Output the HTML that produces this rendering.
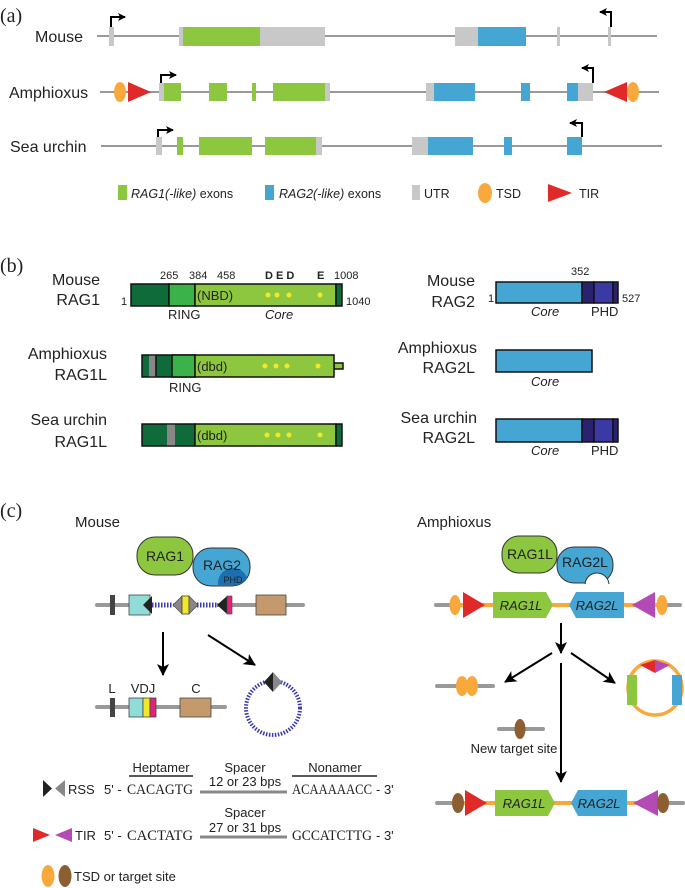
<!DOCTYPE html>
<html><head><meta charset="utf-8"><style>
body{margin:0;background:#fff}
svg{display:block}
text{font-family:"Liberation Sans",Arial,sans-serif;fill:#222}
.s{font-family:"Liberation Serif",serif}
</style></head><body>
<svg width="685" height="888" viewBox="0 0 685 888" xmlns="http://www.w3.org/2000/svg">
<defs>
<marker id="ah" markerWidth="8" markerHeight="8" refX="7" refY="4" orient="auto" markerUnits="userSpaceOnUse"><path d="M0,0 L8,4 L0,8 L2,4z" fill="#000"/></marker>
<marker id="ah2" markerWidth="12" markerHeight="12" refX="11" refY="6" orient="auto" markerUnits="userSpaceOnUse"><path d="M0,0 L12,6 L0,12 L3,6z" fill="#000"/></marker>
</defs>
<!-- (a) -->
<text x="0" y="22" class="s" font-size="20">(a)</text>
<g font-size="16">
<text x="35" y="42">Mouse</text>
<text x="9" y="98">Amphioxus</text>
<text x="10" y="152">Sea urchin</text>
</g>
<g stroke="#999" stroke-width="2"><line x1="97" y1="36" x2="657" y2="36"/><line x1="100" y1="92" x2="659" y2="92"/><line x1="101" y1="146" x2="662" y2="146"/></g>
<g>
<rect x="109" y="27" width="5" height="19" fill="#c8c8c8"/>
<rect x="179" y="27" width="4" height="19" fill="#c8c8c8"/>
<rect x="183" y="27" width="77" height="19" fill="#8dc63f"/>
<rect x="260" y="27" width="65" height="19" fill="#c8c8c8"/>
<rect x="455" y="27" width="23" height="19" fill="#c8c8c8"/>
<rect x="478" y="27" width="48" height="19" fill="#45a5d3"/>
<rect x="557" y="27" width="3" height="19" fill="#c8c8c8"/>
<rect x="608" y="27" width="3" height="19" fill="#c8c8c8"/>
</g>
<g>
<ellipse cx="120" cy="92" rx="6" ry="10" fill="#f9a83b"/>
<polygon points="128,82 151,92 128,102" fill="#e02a2a"/>
<rect x="159" y="83" width="5" height="18" fill="#c8c8c8"/>
<rect x="164" y="83" width="17" height="18" fill="#8dc63f"/>
<rect x="209" y="83" width="18" height="18" fill="#8dc63f"/>
<rect x="252" y="83" width="4" height="18" fill="#8dc63f"/>
<rect x="273" y="83" width="52" height="18" fill="#8dc63f"/>
<rect x="325" y="83" width="5" height="18" fill="#c8c8c8"/>
<rect x="426" y="83" width="8" height="18" fill="#c8c8c8"/>
<rect x="434" y="83" width="41" height="18" fill="#45a5d3"/>
<rect x="521" y="83" width="9" height="18" fill="#45a5d3"/>
<rect x="567" y="83" width="11" height="18" fill="#45a5d3"/>
<rect x="578" y="83" width="15" height="18" fill="#c8c8c8"/>
<polygon points="627,82 604,92 627,102" fill="#e02a2a"/>
<ellipse cx="633" cy="92" rx="6" ry="10" fill="#f9a83b"/>
</g>
<g>
<rect x="156" y="137" width="6" height="18" fill="#c8c8c8"/>
<rect x="177" y="137" width="6" height="18" fill="#8dc63f"/>
<rect x="199" y="137" width="53" height="18" fill="#8dc63f"/>
<rect x="265" y="137" width="51" height="18" fill="#8dc63f"/>
<rect x="316" y="137" width="6" height="18" fill="#c8c8c8"/>
<rect x="412" y="137" width="16" height="18" fill="#c8c8c8"/>
<rect x="428" y="137" width="45" height="18" fill="#45a5d3"/>
<rect x="504" y="137" width="8" height="18" fill="#45a5d3"/>
<rect x="567" y="137" width="15" height="18" fill="#45a5d3"/>
</g>
<g fill="none" stroke="#000" stroke-width="2">
<path d="M111,27 V17 H125" marker-end="url(#ah)"/>
<path d="M611,27 V12 H600" marker-end="url(#ah)"/>
<path d="M161,83 V75 H176" marker-end="url(#ah)"/>
<path d="M593,83 V68 H582" marker-end="url(#ah)"/>
<path d="M158,137 V130 H173" marker-end="url(#ah)"/>
<path d="M582,137 V123 H570" marker-end="url(#ah)"/>
</g>
<g font-size="12.5">
<rect x="118" y="185" width="9" height="15" fill="#8dc63f"/>
<text x="131" y="198"><tspan font-style="italic">RAG1(-like)</tspan> exons</text>
<rect x="265" y="185" width="9" height="15" fill="#45a5d3"/>
<text x="279" y="198"><tspan font-style="italic">RAG2(-like)</tspan> exons</text>
<rect x="412" y="185" width="8" height="15" fill="#c8c8c8"/>
<text x="424" y="198">UTR</text>
<ellipse cx="485" cy="193" rx="7" ry="10" fill="#f9a83b"/>
<text x="496" y="198">TSD</text>
<polygon points="548,184 572,193 548,202" fill="#e02a2a"/>
<text x="579" y="198">TIR</text>
</g>

<!-- (b) -->
<text x="0" y="272" class="s" font-size="20">(b)</text>
<g font-size="16" text-anchor="end">
<text x="100" y="285">Mouse</text><text x="100" y="305">RAG1</text>
<text x="107" y="359">Amphioxus</text><text x="107" y="380">RAG1L</text>
<text x="107" y="425">Sea urchin</text><text x="107" y="447">RAG1L</text>
<text x="475" y="286">Mouse</text><text x="475" y="307">RAG2</text>
<text x="477" y="353">Amphioxus</text><text x="475" y="373">RAG2L</text>
<text x="477" y="423">Sea urchin</text><text x="475" y="443">RAG2L</text>
</g>
<g stroke="#111" stroke-width="1.5">
<rect x="131" y="284" width="38" height="22" fill="#0f6b3a"/>
<rect x="169" y="284" width="26" height="22" fill="#3bb24a"/>
<rect x="195" y="284" width="141" height="22" fill="#8dc63f"/>
<rect x="336" y="284" width="6" height="22" fill="#0f6b3a"/>
<rect x="334" y="363" width="9" height="6" fill="#8dc63f"/>
<rect x="142" y="355" width="53" height="22" fill="#0f6b3a"/>
<rect x="149" y="355.7" width="7" height="20.6" fill="#888" stroke="none"/>
<line x1="156" y1="355" x2="156" y2="377"/>
<rect x="172" y="355" width="23" height="22" fill="#3bb24a"/>
<rect x="195" y="355" width="139" height="22" fill="#8dc63f"/>
<rect x="142" y="424" width="53" height="22" fill="#0f6b3a"/>
<rect x="167" y="424.7" width="8" height="20.6" fill="#888" stroke="none"/>
<rect x="195" y="424" width="141" height="22" fill="#8dc63f"/>
<rect x="336" y="424" width="6" height="22" fill="#0f6b3a"/>
<rect x="496" y="282" width="86" height="21" fill="#45a5d3"/>
<rect x="582" y="282" width="12" height="21" fill="#2a2270"/>
<rect x="594" y="282" width="19" height="21" fill="#3b3aa5"/>
<rect x="613" y="282" width="5" height="21" fill="#2a2270"/>
<rect x="496" y="350" width="96" height="22" fill="#45a5d3"/>
<rect x="496" y="419" width="86" height="23" fill="#45a5d3"/>
<rect x="582" y="419" width="12" height="23" fill="#2a2270"/>
<rect x="594" y="419" width="19" height="23" fill="#3b3aa5"/>
<rect x="613" y="419" width="5" height="23" fill="#2a2270"/>
</g>
<g fill="#f2e82a">
<circle cx="268" cy="295" r="2.5"/><circle cx="277" cy="295" r="2.5"/><circle cx="289" cy="295" r="2.5"/><circle cx="320" cy="295" r="2.5"/>
<circle cx="265" cy="366" r="2.5"/><circle cx="276" cy="366" r="2.5"/><circle cx="287" cy="366" r="2.5"/><circle cx="318" cy="366" r="2.5"/>
<circle cx="267" cy="435" r="2.5"/><circle cx="278" cy="435" r="2.5"/><circle cx="289" cy="435" r="2.5"/><circle cx="320" cy="435" r="2.5"/>
</g>
<g font-size="11">
<text x="160" y="279">265</text><text x="189" y="279">384</text><text x="217" y="279">458</text>
<text x="265" y="279" font-weight="bold">D E D</text><text x="317" y="279" font-weight="bold">E</text><text x="334" y="279">1008</text>
<text x="121" y="305">1</text><text x="346" y="305">1040</text>
<text x="571" y="275">352</text><text x="488" y="302">1</text><text x="622" y="302">527</text>
</g>
<g font-size="13">
<text x="197" y="300">(NBD)</text><text x="197" y="371">(dbd)</text><text x="197" y="440">(dbd)</text>
<text x="168" y="319">RING</text><text x="265" y="319" font-style="italic">Core</text>
<text x="169" y="392">RING</text>
<text x="531" y="316" font-style="italic">Core</text><text x="591" y="316">PHD</text>
<text x="531" y="386" font-style="italic">Core</text>
<text x="531" y="455" font-style="italic">Core</text><text x="591" y="455">PHD</text>
</g>

<!-- (c) -->
<text x="0" y="517" class="s" font-size="20">(c)</text>
<text x="75" y="527" font-size="15">Mouse</text>
<text x="417" y="527" font-size="15">Amphioxus</text>
<rect x="137" y="537" width="56" height="38" rx="18" fill="#8dc63f" stroke="#333" stroke-width="1"/>
<clipPath id="r2c"><rect x="193" y="548" width="57" height="38" rx="18"/></clipPath>
<rect x="193" y="548" width="57" height="38" rx="18" fill="#45a5d3" stroke="#333" stroke-width="1"/>
<circle cx="233" cy="583" r="15" fill="#1e6fb0" clip-path="url(#r2c)"/>
<text x="165" y="561" font-size="14" text-anchor="middle">RAG1</text>
<text x="222" y="570" font-size="14" text-anchor="middle">RAG2</text>
<text x="233" y="583" font-size="9" text-anchor="middle">PHD</text>
<line x1="97" y1="605" x2="303" y2="605" stroke="#999" stroke-width="4" stroke-linecap="round"/>
<line x1="152" y1="605" x2="173" y2="605" stroke="#fff" stroke-width="5"/>
<line x1="197" y1="605" x2="217" y2="605" stroke="#fff" stroke-width="5"/>
<line x1="152" y1="605" x2="173" y2="605" stroke="#3a3ab0" stroke-width="5" stroke-dasharray="1.5 1.5"/>
<line x1="197" y1="605" x2="217" y2="605" stroke="#3a3ab0" stroke-width="5" stroke-dasharray="1.5 1.5"/>
<rect x="110" y="595" width="5" height="20" fill="#444"/>
<rect x="129" y="595" width="21" height="20" fill="#8fdcd8" stroke="#444" stroke-width="0.8"/>
<polygon points="143,605 152,596 152,614" fill="#222"/>
<polygon points="182,596 173,605 182,614" fill="#888" stroke="#444" stroke-width="0.6"/>
<rect x="182" y="596" width="7" height="18" fill="#f2e82a" stroke="#444" stroke-width="0.8"/>
<polygon points="189,596 198,605 189,614" fill="#888" stroke="#444" stroke-width="0.6"/>
<polygon points="217,605 227,596 227,614" fill="#222"/>
<rect x="227" y="596" width="5" height="18" fill="#e0237a" stroke="#444" stroke-width="0.6"/>
<rect x="256" y="595" width="30" height="20" fill="#c49a6c" stroke="#444" stroke-width="0.8"/>
<line x1="163" y1="632" x2="163" y2="675" stroke="#000" stroke-width="2" marker-end="url(#ah2)"/>
<line x1="208" y1="635" x2="255" y2="665" stroke="#000" stroke-width="2" marker-end="url(#ah2)"/>
<g font-size="13" text-anchor="middle"><text x="112" y="693">L</text><text x="143" y="693">VDJ</text><text x="196" y="693">C</text></g>
<line x1="97" y1="707" x2="225" y2="707" stroke="#999" stroke-width="4" stroke-linecap="round"/>
<rect x="110" y="698" width="5" height="19" fill="#444"/>
<rect x="129" y="698" width="14" height="19" fill="#8fdcd8" stroke="#444" stroke-width="0.8"/>
<rect x="143" y="698" width="7" height="19" fill="#f2e82a" stroke="#444" stroke-width="0.8"/>
<rect x="150" y="698" width="6" height="19" fill="#e0237a" stroke="#444" stroke-width="0.8"/>
<rect x="180" y="698" width="31" height="19" fill="#c49a6c" stroke="#444" stroke-width="0.8"/>
<circle cx="273" cy="708" r="27" fill="none" stroke="#3a3ab0" stroke-width="4" stroke-dasharray="1.5 1.5"/>
<polygon points="273,672 264,682 273,692" fill="#222"/>
<polygon points="273,672 282,682 273,692" fill="#888"/>
<!-- amphioxus complex -->
<rect x="502" y="536" width="55" height="37" rx="17" fill="#8dc63f" stroke="#333" stroke-width="1"/>
<rect x="557" y="547" width="56" height="36" rx="17" fill="#45a5d3" stroke="#333" stroke-width="1"/>
<circle cx="597" cy="585" r="12" fill="#fff" stroke="#333" stroke-width="1"/>
<rect x="580" y="584" width="36" height="16" fill="#fff"/>
<text x="530" y="559" font-size="14" text-anchor="middle">RAG1L</text>
<text x="585" y="567" font-size="14" text-anchor="middle">RAG2L</text>
<g>
<line x1="436" y1="605" x2="452" y2="605" stroke="#999" stroke-width="4" stroke-linecap="round"/>
<line x1="665" y1="605" x2="680" y2="605" stroke="#999" stroke-width="4" stroke-linecap="round"/>
<line x1="452" y1="605" x2="665" y2="605" stroke="#f9a83b" stroke-width="4"/>
<ellipse cx="455" cy="605" rx="5.5" ry="10" fill="#f9a83b"/>
<polygon points="463,592 485,605 463,618" fill="#e02a2a"/>
<polygon points="493,592 546,592 553,605 546,618 493,618" fill="#8dc63f"/>
<polygon points="576,592 624,592 624,618 576,618 569,605" fill="#45a5d3"/>
<polygon points="655,592 632,605 655,618" fill="#b44bb5"/>
<ellipse cx="662" cy="605" rx="5.5" ry="10" fill="#f9a83b"/>
<text x="521" y="610" font-size="13" font-style="italic" text-anchor="middle">RAG1L</text>
<text x="597" y="610" font-size="13" font-style="italic" text-anchor="middle">RAG2L</text>
</g>
<line x1="561" y1="623" x2="561" y2="653" stroke="#000" stroke-width="2" marker-end="url(#ah2)"/>
<line x1="552" y1="653" x2="505" y2="682" stroke="#000" stroke-width="2" marker-end="url(#ah2)"/>
<line x1="571" y1="653" x2="615" y2="683" stroke="#000" stroke-width="2" marker-end="url(#ah2)"/>
<line x1="561" y1="663" x2="561" y2="782" stroke="#000" stroke-width="2" marker-end="url(#ah2)"/>
<line x1="437" y1="686" x2="493" y2="686" stroke="#999" stroke-width="4" stroke-linecap="round"/>
<ellipse cx="462" cy="686" rx="6" ry="10" fill="#f9a83b"/>
<ellipse cx="472" cy="686" rx="6" ry="10" fill="#f9a83b"/>
<circle cx="655" cy="688" r="27" fill="none" stroke="#f9a83b" stroke-width="3.5"/>
<rect x="627" y="675" width="10" height="30" fill="#8dc63f"/>
<rect x="672" y="675" width="10" height="30" fill="#45a5d3"/>
<polygon points="640,665 655,660 655,673" fill="#e02a2a"/>
<polygon points="655,660 670,665 655,673" fill="#b44bb5"/>
<line x1="499" y1="729" x2="543" y2="729" stroke="#999" stroke-width="4" stroke-linecap="round"/>
<ellipse cx="520" cy="729" rx="5.5" ry="10" fill="#8c5e32"/>
<text x="514" y="753" font-size="13" text-anchor="middle">New target site</text>
<g>
<line x1="437" y1="803" x2="452" y2="803" stroke="#999" stroke-width="4" stroke-linecap="round"/>
<line x1="668" y1="803" x2="683" y2="803" stroke="#999" stroke-width="4" stroke-linecap="round"/>
<line x1="452" y1="803" x2="668" y2="803" stroke="#f9a83b" stroke-width="4"/>
<ellipse cx="458" cy="803" rx="6" ry="10" fill="#8c5e32"/>
<polygon points="465,790 487,803 465,816" fill="#e02a2a"/>
<polygon points="495,790 548,790 555,803 548,816 495,816" fill="#8dc63f"/>
<polygon points="578,790 627,790 627,816 578,816 571,803" fill="#45a5d3"/>
<polygon points="658,790 633,803 658,816" fill="#b44bb5"/>
<ellipse cx="663" cy="803" rx="6" ry="10" fill="#8c5e32"/>
<text x="524" y="808" font-size="13" font-style="italic" text-anchor="middle">RAG1L</text>
<text x="599" y="808" font-size="13" font-style="italic" text-anchor="middle">RAG2L</text>
</g>
<g font-size="13">
<text x="161" y="772" text-anchor="middle">Heptamer</text>
<line x1="129" y1="776" x2="193" y2="776" stroke="#222" stroke-width="1.5"/>
<text x="245" y="772" text-anchor="middle">Spacer</text>
<text x="245" y="786" text-anchor="middle">12 or 23 bps</text>
<text x="335" y="772" text-anchor="middle">Nonamer</text>
<line x1="292" y1="776" x2="377" y2="776" stroke="#222" stroke-width="1.5"/>
<polygon points="43,780 52,788.5 43,797" fill="#222"/>
<polygon points="65,780 55,788.5 65,797" fill="#888"/>
<text x="68" y="794">RSS</text>
<text x="104" y="794">5' -</text>
<text x="127" y="794" class="s" font-size="15" textLength="66" lengthAdjust="spacingAndGlyphs">CACAGTG</text>
<line x1="200" y1="792" x2="287" y2="792" stroke="#888" stroke-width="3"/>
<text x="292" y="794" class="s" font-size="15" textLength="80" lengthAdjust="spacingAndGlyphs">ACAAAAACC</text>
<text x="376" y="794">- 3'</text>
<text x="245" y="817" text-anchor="middle">Spacer</text>
<text x="245" y="832" text-anchor="middle">27 or 31 bps</text>
<polygon points="33,828 50,835 33,842" fill="#e02a2a"/>
<polygon points="72,828 55,835 72,842" fill="#b44bb5"/>
<text x="75" y="840">TIR</text>
<text x="104" y="840">5' -</text>
<text x="127" y="840" class="s" font-size="15" textLength="66" lengthAdjust="spacingAndGlyphs">CACTATG</text>
<line x1="200" y1="837" x2="287" y2="837" stroke="#888" stroke-width="3"/>
<text x="292" y="840" class="s" font-size="15" textLength="80" lengthAdjust="spacingAndGlyphs">GCCATCTTG</text>
<text x="376" y="840">- 3'</text>
<ellipse cx="48" cy="876" rx="6.5" ry="11" fill="#f9a83b"/>
<ellipse cx="65" cy="876" rx="6.5" ry="11" fill="#8c5e32"/>
<text x="74" y="881">TSD or target site</text>
</g>
</svg>
</body></html>
